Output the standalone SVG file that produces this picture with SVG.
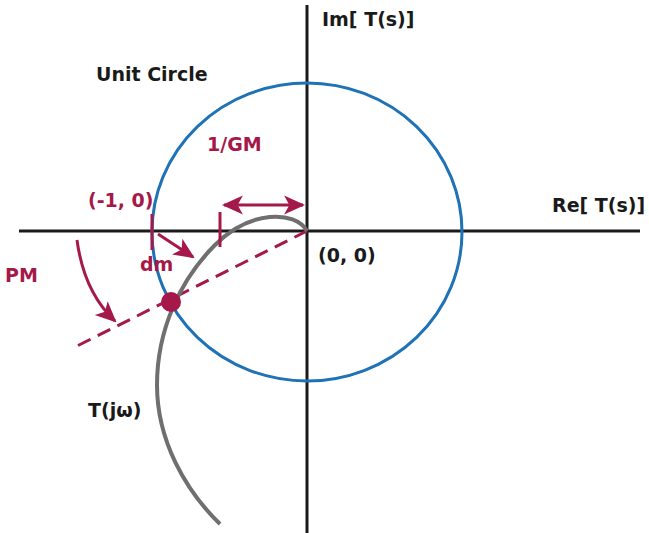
<svg xmlns="http://www.w3.org/2000/svg" width="649" height="533" viewBox="0 0 649 533">
<style>
.t{font-family:"DejaVu Sans","Liberation Sans",sans-serif;font-weight:bold;font-size:19px}
.k{fill:#1a1a1a}
.r{fill:#a5194a}
.ax{stroke:#1a1a1a;stroke-width:3;fill:none}
.red{stroke:#a5194a;stroke-width:3;fill:none}
</style>
<defs>
<marker id="ah" viewBox="0 0 10 10" refX="9" refY="5" markerWidth="7" markerHeight="7" orient="auto-start-reverse" markerUnits="strokeWidth">
<path d="M0,0.5 L10,5 L0,9.5 L2.5,5 Z" fill="#a5194a"/>
</marker>
</defs>
<g id="connectors">
<line class="ax" x1="19" y1="231" x2="640" y2="231"/>
<line class="ax" x1="307" y1="5" x2="307" y2="533"/>
<ellipse id="unit-circle" cx="307" cy="232" rx="155" ry="149" fill="none" stroke="#1f72b6" stroke-width="3"/>
<line class="red" x1="307" y1="231" x2="75" y2="347" stroke-dasharray="14,8"/>
<path d="M307,231 C295,210 250,210 215,245 C180,280 157,330 157,385 C157,440 185,490 220,524" fill="none" stroke="#6f6f70" stroke-width="4"/>
<line class="red" x1="152" y1="214" x2="152" y2="250"/>
<line class="red" x1="220" y1="212" x2="220" y2="247"/>
<line class="red" x1="224" y1="205" x2="303" y2="205" marker-start="url(#ah)" marker-end="url(#ah)"/>
<line class="red" x1="158" y1="234" x2="193" y2="257" marker-end="url(#ah)"/>
<path class="red" d="M77,240 Q84,292 115,321" marker-end="url(#ah)"/>
</g>
<g id="point"><circle cx="171" cy="302" r="10" fill="#a5194a"/></g>
<g id="labels">
<text class="t k" x="322" y="26">Im[ T(s)]</text>
<text class="t k" x="552" y="212" font-size="18">Re[ T(s)]</text>
<text class="t k" x="96" y="81">Unit Circle</text>
<text class="t r" x="207" y="151">1/GM</text>
<text class="t r" x="88" y="207" font-size="18">(-1, 0)</text>
<text class="t r" x="140" y="271">dm</text>
<text class="t r" x="5" y="282">PM</text>
<text class="t k" x="318" y="262" font-size="18">(0, 0)</text>
<text class="t k" x="88" y="417">T(jω)</text>
</g>
</svg>
